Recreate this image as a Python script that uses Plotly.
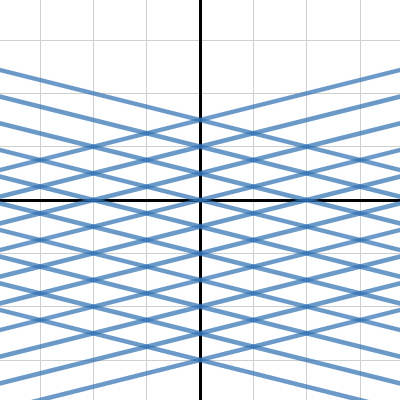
import plotly.graph_objects as go
import numpy as np

slopes = [0.25, -0.25]
intercepts = [1.5, 1.0, 0.5, 0.0, -0.5, -1.0, -1.5, -2.0, -2.5, -3.0]
x_range = [-3.75, 3.75]
y_range = [-3.75, 3.75]

fig = go.Figure()
xs = np.array([-5, 5])
for m in slopes:
    for c in intercepts:
        fig.add_trace(go.Scatter(x=xs, y=m * xs + c, mode="lines",
                                 line=dict(color="#2d70b3", width=4.5), opacity=0.7,
                                 showlegend=False, hoverinfo="skip"))

axis = dict(showgrid=True, gridcolor="#cfcfcf", gridwidth=1, dtick=1,
            zeroline=True, zerolinecolor="black", zerolinewidth=2.5,
            showticklabels=False, ticks="")
fig.update_xaxes(range=x_range, **axis)
fig.update_yaxes(range=y_range, **axis)
fig.update_layout(width=400, height=400, margin=dict(l=0, r=0, t=0, b=0),
                  plot_bgcolor="white", paper_bgcolor="white")
fig.write_html("out.html", config={"displayModeBar": False},
               post_script="document.body.style.margin='0';")
